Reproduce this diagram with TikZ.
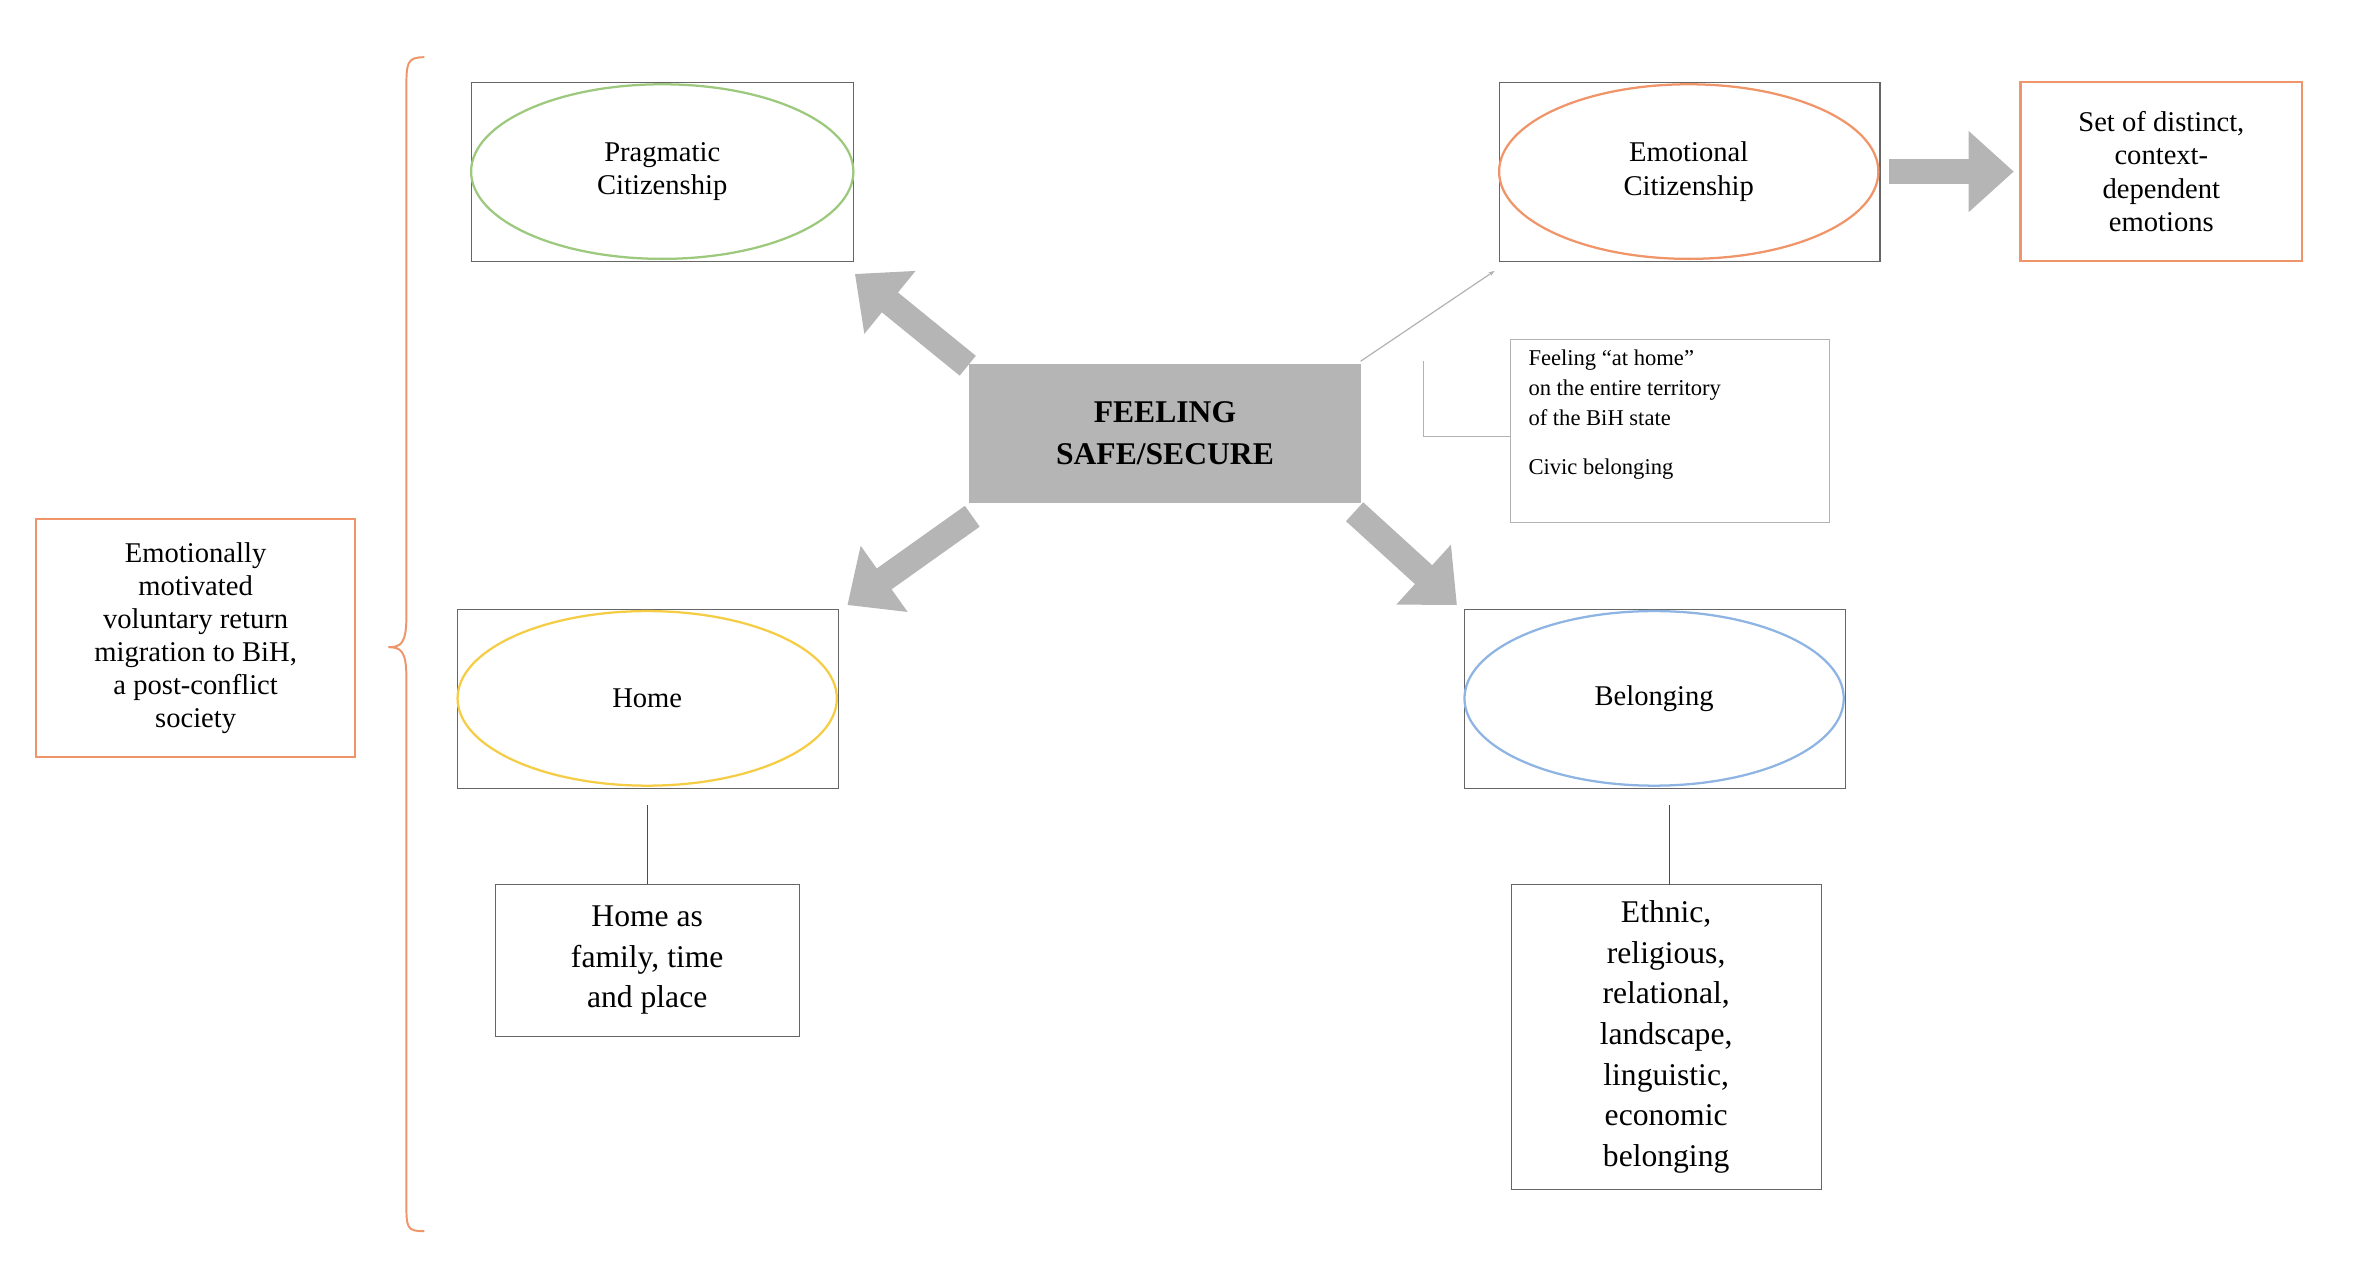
\documentclass[tikz,border=0pt]{standalone}
\usepackage{fontspec}
\setmainfont{Liberation Serif}
\usetikzlibrary{arrows.meta,decorations.pathreplacing}
\definecolor{org}{HTML}{F0956A}
\definecolor{grn}{HTML}{9CC97E}
\definecolor{yel}{HTML}{F5CD45}
\definecolor{blu}{HTML}{8DB4E2}
\definecolor{bgr}{HTML}{B5B5B5}
\tikzset{
 gbox/.style={draw=black!60,line width=0.8pt},
 obox/.style={draw=org,line width=1.5pt},
 ell/.style={ellipse,line width=1.5pt},
 big/.style={draw=none,fill=bgr},
 bigar/.style={bgr,line width=17pt,-{Triangle[length=30pt,width=52pt]}},
 txt/.style={align=center,font=\fontsize{19}{22}\selectfont},
}
\begin{document}
\begin{tikzpicture}[x=1pt,y=-1pt]
\useasboundingbox (0,0) rectangle (1568,845);
% brace
\draw[org,line width=1.3pt] (282,38) .. controls (270,38) and (270,42) .. (270,60) -- (270,410) .. controls (270,428) and (266,430) .. (258,430) .. controls (266,430) and (270,432) .. (270,450) -- (270,798) .. controls (270,816) and (270,818) .. (282,818);
\node[obox,minimum width=212pt,minimum height=158pt,txt] (mig) at (130,424) {Emotionally\\motivated\\voluntary return\\migration to BiH,\\a post-conflict\\society};
% boxes
\draw[gbox] (313,55) rectangle (567,174);
\draw[grn,line width=1.5pt] (440,114) ellipse (127 and 58);
\node[txt] (prag) at (440,114) {Pragmatic\\Citizenship};
\draw[gbox] (996,55) rectangle (1249,174);
\draw[org,line width=1.5pt] (1122,114) ellipse (126 and 58);
\node[txt] (emo) at (1122,114) {Emotional\\Citizenship};
\node[obox,minimum width=187pt,minimum height=119pt,txt] (set) at (1436,114) {Set of distinct,\\context-\\dependent\\emotions};
\draw[gbox] (304,405) rectangle (557,524);
\draw[yel,line width=1.5pt] (430,464) ellipse (126 and 58);
\node[txt] (home) at (430,464) {Home};
\draw[gbox] (973,405) rectangle (1226,524);
\draw[blu,line width=1.5pt] (1099,464) ellipse (126 and 58);
\node[txt] (bel) at (1099,464) {Belonging};
\node[fill=bgr,minimum width=260pt,minimum height=92pt,align=center,font=\fontsize{21}{28}\selectfont\bfseries] (c) at (774,288) {FEELING\\SAFE/SECURE};
% block arrows
\coordinate (a1s) at (643,243); \coordinate (a1e) at (568,182);
\coordinate (a2s) at (646,343); \coordinate (a2e) at (563,402);
\coordinate (a3s) at (900,340); \coordinate (a3e) at (968,402);
\coordinate (a4s) at (1255,114); \coordinate (a4e) at (1338,114);
\draw[bigar] (a1s) -- (a1e);
\draw[bigar] (a2s) -- (a2e);
\draw[bigar] (a3s) -- (a3e);
\draw[bigar] (a4s) -- (a4e);
% thin connectors
\coordinate (t1) at (904,240); \coordinate (t2) at (993,180);
\draw[black!30,line width=0.8pt,-{Stealth[length=4pt]}] (t1) -- (t2);
\node[gbox,draw=black!30,minimum width=212pt,minimum height=122pt,anchor=north west,inner sep=0pt] (feel) at (1003,225) {};
\node[anchor=north west,align=left,font=\fontsize{15}{20}\selectfont] (feelt) at (1012,229) {Feeling “at home”\\on the entire territory\\of the BiH state\\[12pt]Civic belonging};
\coordinate (v1) at (946,240); \coordinate (v2) at (946,290);
\draw[black!30,line width=0.8pt] (v1) -- (v2) -- (feel.west |- v2);
\node[gbox,minimum width=202pt,minimum height=101pt,txt,font=\fontsize{21}{27}\selectfont] (homeas) at (430,638) {Home as\\family, time\\and place};
\draw[black!70,line width=0.8pt] (430,535) -- (homeas.north);
\node[gbox,minimum width=206pt,minimum height=203pt,txt,font=\fontsize{21}{27}\selectfont] (eth) at (1107,689) {Ethnic,\\religious,\\relational,\\landscape,\\linguistic,\\economic\\belonging};
\draw[black!70,line width=0.8pt] (1109,535) -- (1109,588);
\end{tikzpicture}
\end{document}
